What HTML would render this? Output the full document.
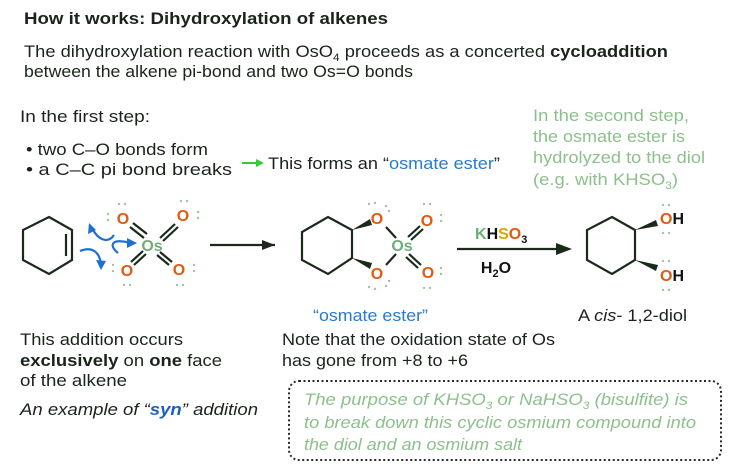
<!DOCTYPE html>
<html><head><style>
body{margin:0;background:#fff;}
svg{display:block;font-family:"Liberation Sans",sans-serif;}
</style></head><body>
<svg width="733" height="475" viewBox="0 0 733 475">
<g font-size="17" fill="#1a241a">
<text x="24" y="24" font-weight="bold" font-size="16.5" textLength="364" lengthAdjust="spacingAndGlyphs">How it works:  Dihydroxylation of alkenes</text>
<text x="24" y="57" textLength="644" lengthAdjust="spacingAndGlyphs">The dihydroxylation reaction with OsO<tspan font-size="11" dy="4">4</tspan><tspan dy="-4"> proceeds as a concerted </tspan><tspan font-weight="bold">cycloaddition</tspan></text>
<text x="24" y="77" textLength="389" lengthAdjust="spacingAndGlyphs">between the alkene pi-bond and two Os=O bonds</text>
<text x="20" y="122" textLength="130" lengthAdjust="spacingAndGlyphs">In the first step:</text>
<text x="26" y="155" textLength="182" lengthAdjust="spacingAndGlyphs">• two C–O bonds form</text>
<text x="26" y="175" textLength="206" lengthAdjust="spacingAndGlyphs">•  a   C–C pi bond breaks</text>
<text x="268" y="169" textLength="232" lengthAdjust="spacingAndGlyphs">This forms an “<tspan fill="#2a7ad0">osmate ester</tspan>”</text>
</g>
<g stroke="#3c3" stroke-width="2" fill="#3c3"><line x1="242" y1="163" x2="257" y2="163"/><polygon points="264,163 256,159 256,167" stroke="none"/></g>
<g font-size="17" fill="#8cc08c">
<text x="533" y="121" textLength="156" lengthAdjust="spacingAndGlyphs">In the second step,</text>
<text x="533" y="142" textLength="152" lengthAdjust="spacingAndGlyphs">the osmate ester is</text>
<text x="533" y="163" textLength="172" lengthAdjust="spacingAndGlyphs">hydrolyzed to the diol</text>
<text x="533" y="185" textLength="145" lengthAdjust="spacingAndGlyphs">(e.g. with KHSO<tspan font-size="11" dy="4">3</tspan><tspan dy="-4">)</tspan></text>
</g>
<g stroke="#1a2a1a" stroke-width="2.2" fill="none">
<polygon points="49,217 72,230 72,260 49,274 23,260 23,230"/>
<line x1="66" y1="234" x2="66" y2="256"/>
<line x1="130" y1="227" x2="144" y2="238"/><line x1="133" y1="223" x2="147" y2="234"/>
<line x1="160" y1="238" x2="175" y2="224"/><line x1="163" y1="241" x2="178" y2="227"/>
<line x1="143" y1="251" x2="131" y2="262"/><line x1="146" y1="254" x2="134" y2="265"/>
<line x1="160" y1="252" x2="172" y2="262"/><line x1="157" y1="255" x2="169" y2="265"/>
<line x1="210" y1="245" x2="275" y2="245"/>
<polygon points="328,217 352,230 352,258 328,274 302,260 302,232"/>
<line x1="386" y1="227" x2="396" y2="238"/><line x1="386" y1="265" x2="396" y2="254"/>
<line x1="408" y1="237" x2="420" y2="226"/><line x1="411" y1="240" x2="423" y2="229"/>
<line x1="409" y1="254" x2="421" y2="265"/><line x1="406" y1="257" x2="418" y2="268"/>
<line x1="457" y1="249" x2="560" y2="249"/>
<polygon points="612,217 635,230 635,260 612,274 587,260 587,230"/>
</g>
<g fill="#1a2a1a">
<polygon points="275,245 262,240 262,250"/>
<polygon points="572,249 556,243 556,255"/>
<polygon points="352,230 370,219 372,225"/>
<polygon points="352,258 370,269 372,263"/>
<polygon points="635,230 656,220 658,226"/>
<polygon points="635,260 656,271 658,265"/>
</g>
<g stroke="#1d6fd0" stroke-width="2.2" fill="none">
<path d="M114,235 C108,244 98,240 92,228"/>
<path d="M80,251 C92,246 100,252 101,265"/>
<path d="M118,253 C108,245 112,238 130,243"/>
</g>
<g fill="#1d6fd0">
<polygon points="89,223 88,234 96,230"/>
<polygon points="101,270 96,260 106,261"/>
<polygon points="137,243 127,238 127,248"/>
</g>
<g font-weight="bold" font-size="16" text-anchor="middle">
<text x="152" y="251" fill="#6fae78">Os</text>
<text x="123" y="224" fill="#e05a10">O</text>
<text x="183" y="221" fill="#e05a10">O</text>
<text x="127" y="276" fill="#e05a10">O</text>
<text x="179" y="275" fill="#e05a10">O</text>
<text x="402" y="251" fill="#6fae78">Os</text>
<text x="377" y="224" fill="#e05a10">O</text>
<text x="377" y="279" fill="#e05a10">O</text>
<text x="427" y="226" fill="#e05a10">O</text>
<text x="428" y="278" fill="#e05a10">O</text>
<text x="672" y="224" fill="#e05a10">O<tspan fill="#111">H</tspan></text>
<text x="672" y="281" fill="#e05a10">O<tspan fill="#111">H</tspan></text>
<text x="475" y="239" text-anchor="start"><tspan fill="#6fae78">K</tspan><tspan fill="#111">H</tspan><tspan fill="#d8a800">S</tspan><tspan fill="#e05a10">O</tspan><tspan fill="#111" font-size="11" dy="4">3</tspan></text>
<text x="496" y="273" fill="#111">H<tspan font-size="11" dy="4">2</tspan><tspan dy="-4">O</tspan></text>
</g>
<g fill="#9cc89c">
<circle cx="119" cy="204" r="1.2"/><circle cx="125" cy="204" r="1.2"/>
<circle cx="108" cy="214" r="1.2"/><circle cx="108" cy="220" r="1.2"/>
<circle cx="181" cy="201" r="1.2"/><circle cx="187" cy="201" r="1.2"/>
<circle cx="198" cy="212" r="1.2"/><circle cx="198" cy="218" r="1.2"/>
<circle cx="113" cy="265" r="1.2"/><circle cx="113" cy="271" r="1.2"/>
<circle cx="124" cy="285" r="1.2"/><circle cx="130" cy="285" r="1.2"/>
<circle cx="194" cy="265" r="1.2"/><circle cx="194" cy="271" r="1.2"/>
<circle cx="177" cy="285" r="1.2"/><circle cx="183" cy="285" r="1.2"/>
<circle cx="369" cy="204" r="1.2"/><circle cx="375" cy="203" r="1.2"/><circle cx="386" cy="206" r="1.2"/><circle cx="389" cy="211" r="1.2"/>
<circle cx="369" cy="287" r="1.2"/><circle cx="375" cy="289" r="1.2"/><circle cx="386" cy="286" r="1.2"/><circle cx="389" cy="281" r="1.2"/>
<circle cx="424" cy="204" r="1.2"/><circle cx="430" cy="204" r="1.2"/><circle cx="441" cy="215" r="1.2"/><circle cx="441" cy="221" r="1.2"/>
<circle cx="424" cy="288" r="1.2"/><circle cx="430" cy="288" r="1.2"/><circle cx="441" cy="268" r="1.2"/><circle cx="441" cy="274" r="1.2"/>
<circle cx="663" cy="205" r="1.2"/><circle cx="669" cy="205" r="1.2"/><circle cx="663" cy="233" r="1.2"/><circle cx="669" cy="233" r="1.2"/>
<circle cx="663" cy="261" r="1.2"/><circle cx="669" cy="261" r="1.2"/><circle cx="663" cy="290" r="1.2"/><circle cx="669" cy="290" r="1.2"/>
</g>
<g font-size="17" fill="#1a241a">
<text x="313" y="321" fill="#2a7ad0" textLength="115" lengthAdjust="spacingAndGlyphs">“osmate ester”</text>
<text x="578" y="321" textLength="109" lengthAdjust="spacingAndGlyphs">A <tspan font-style="italic">cis</tspan>- 1,2-diol</text>
<text x="20" y="345" textLength="163" lengthAdjust="spacingAndGlyphs">This addition occurs</text>
<text x="20" y="366" textLength="202" lengthAdjust="spacingAndGlyphs"><tspan font-weight="bold">exclusively</tspan> on <tspan font-weight="bold">one</tspan> face</text>
<text x="20" y="386" textLength="107" lengthAdjust="spacingAndGlyphs">of the alkene</text>
<text x="20" y="415" font-style="italic" textLength="238" lengthAdjust="spacingAndGlyphs">An example of “<tspan fill="#1d5fc0" font-weight="bold">syn</tspan>” addition</text>
<text x="282" y="345" textLength="273" lengthAdjust="spacingAndGlyphs">Note that the oxidation state of Os</text>
<text x="282" y="366" textLength="186" lengthAdjust="spacingAndGlyphs">has gone from +8 to +6</text>
</g>
<rect x="289" y="381" width="432" height="79" rx="10" fill="none" stroke="#2a2a2a" stroke-width="2" stroke-dasharray="2,2.5"/>
<g font-size="17" fill="#8cc08c" font-style="italic">
<text x="304" y="405" textLength="384" lengthAdjust="spacingAndGlyphs">The purpose of KHSO<tspan font-size="11" dy="4">3</tspan><tspan dy="-4"> or NaHSO</tspan><tspan font-size="11" dy="4">3</tspan><tspan dy="-4"> (bisulfite) is</tspan></text>
<text x="304" y="428" textLength="392" lengthAdjust="spacingAndGlyphs">to break down this cyclic osmium compound into</text>
<text x="304" y="450" textLength="218" lengthAdjust="spacingAndGlyphs">the diol and an osmium salt</text>
</g>
</svg>
</body></html>
